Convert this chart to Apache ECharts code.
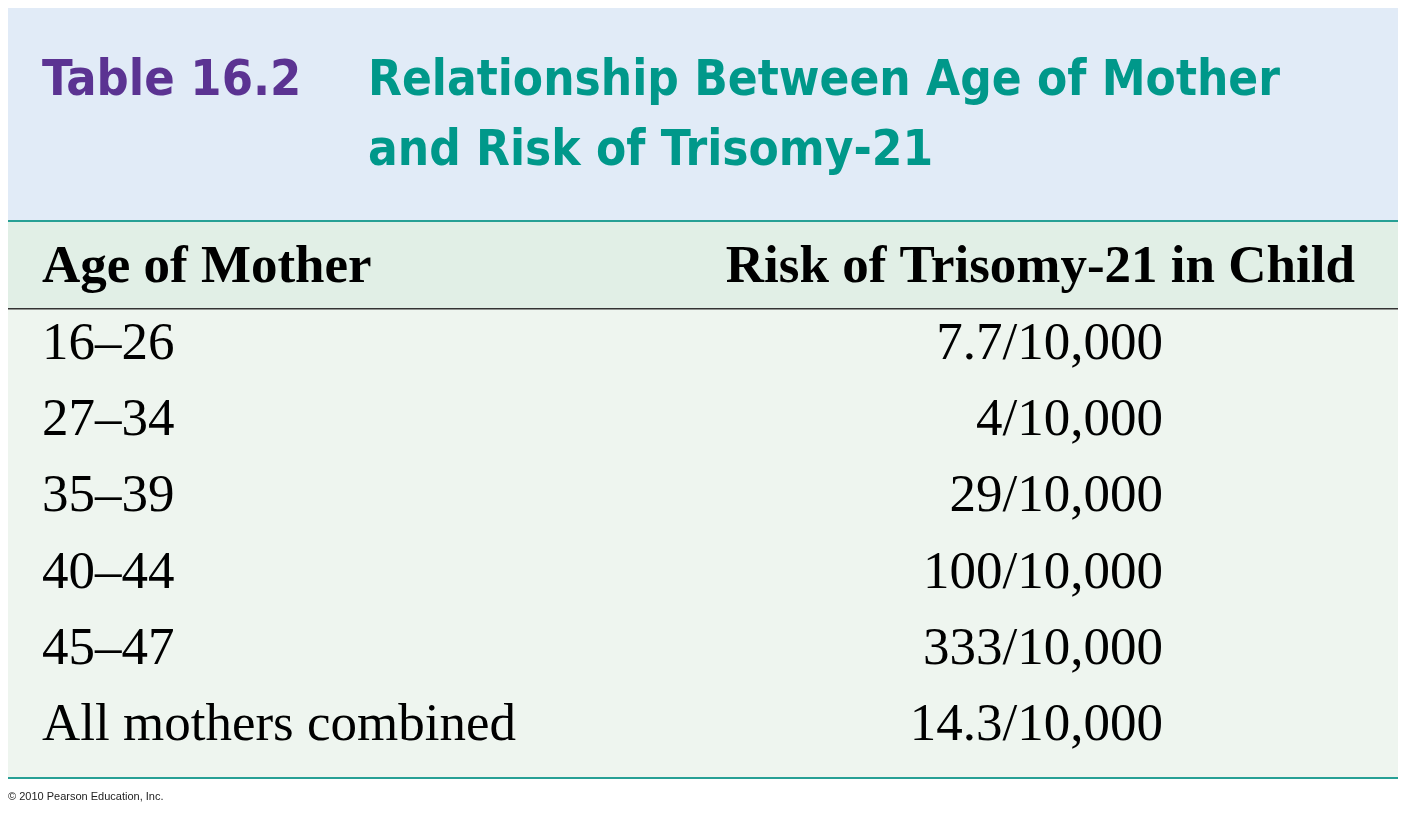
<!DOCTYPE html>
<html><head><meta charset="utf-8">
<script src="https://cdn.jsdelivr.net/npm/echarts@6/dist/echarts.min.js"></script>
<style>html,body{margin:0;padding:0;background:#fff}#c{width:1408px;height:813px}</style>
</head><body><div id="c"></div>
<script>
const tableLabel = "Table 16.2";
const titleLines = ["Relationship Between Age of Mother", "and Risk of Trisomy-21"];
const headers = ["Age of Mother", "Risk of Trisomy-21 in Child"];
const ages = ["16\u201326", "27\u201334", "35\u201339", "40\u201344", "45\u201347", "All mothers combined"];
const risks = ["7.7/10,000", "4/10,000", "29/10,000", "100/10,000", "333/10,000", "14.3/10,000"];
const credit = "\u00a9 2010 Pearson Education, Inc.";

const chart = echarts.init(document.getElementById('c'));
const g = [];
g.push({type:'rect', shape:{x:8,y:8,width:1390,height:213}, style:{fill:'#e1ebf7'}});
g.push({type:'rect', shape:{x:8,y:221,width:1390,height:87}, style:{fill:'#e1efe6'}});
g.push({type:'rect', shape:{x:8,y:308,width:1390,height:470}, style:{fill:'#eef5ef'}});
g.push({type:'rect', shape:{x:8,y:220,width:1390,height:2}, style:{fill:'#27a095'}});
g.push({type:'rect', shape:{x:8,y:308,width:1390,height:1.5}, style:{fill:'#333'}});
g.push({type:'rect', shape:{x:8,y:777,width:1390,height:2}, style:{fill:'#27a095'}});
const tf = '"DejaVu Sans Condensed", "DejaVu Sans", sans-serif';
g.push({type:'text', x:42, y:82, style:{text:tableLabel, fill:'#5b3392', font:'bold 50px '+tf, textVerticalAlign:'middle'}});
titleLines.forEach((t,i)=>g.push({type:'text', x:368, y:82+i*70, style:{text:t, fill:'#00988a', font:'bold 49px '+tf, textVerticalAlign:'middle'}}));
const sf = '"Liberation Serif", "DejaVu Serif", serif';
g.push({type:'text', x:42, y:268, style:{text:headers[0], fill:'#000', font:'bold 53px '+sf, textVerticalAlign:'middle'}});
g.push({type:'text', x:1355, y:268, style:{text:headers[1], fill:'#000', font:'bold 53px '+sf, textAlign:'right', textVerticalAlign:'middle'}});
ages.forEach((a,i)=>{
  const y = 345 + i*76.2;
  g.push({type:'text', x:42, y:y, style:{text:a, fill:'#000', font:'53px '+sf, textVerticalAlign:'middle'}});
  g.push({type:'text', x:1163, y:y, style:{text:risks[i], fill:'#000', font:'53px '+sf, textAlign:'right', textVerticalAlign:'middle'}});
});
g.push({type:'text', x:8, y:797, style:{text:credit, fill:'#222', font:'11px "Liberation Sans", Arial, sans-serif', textVerticalAlign:'middle'}});
chart.setOption({animation:false, graphic:{elements:g}});
</script></body></html>
